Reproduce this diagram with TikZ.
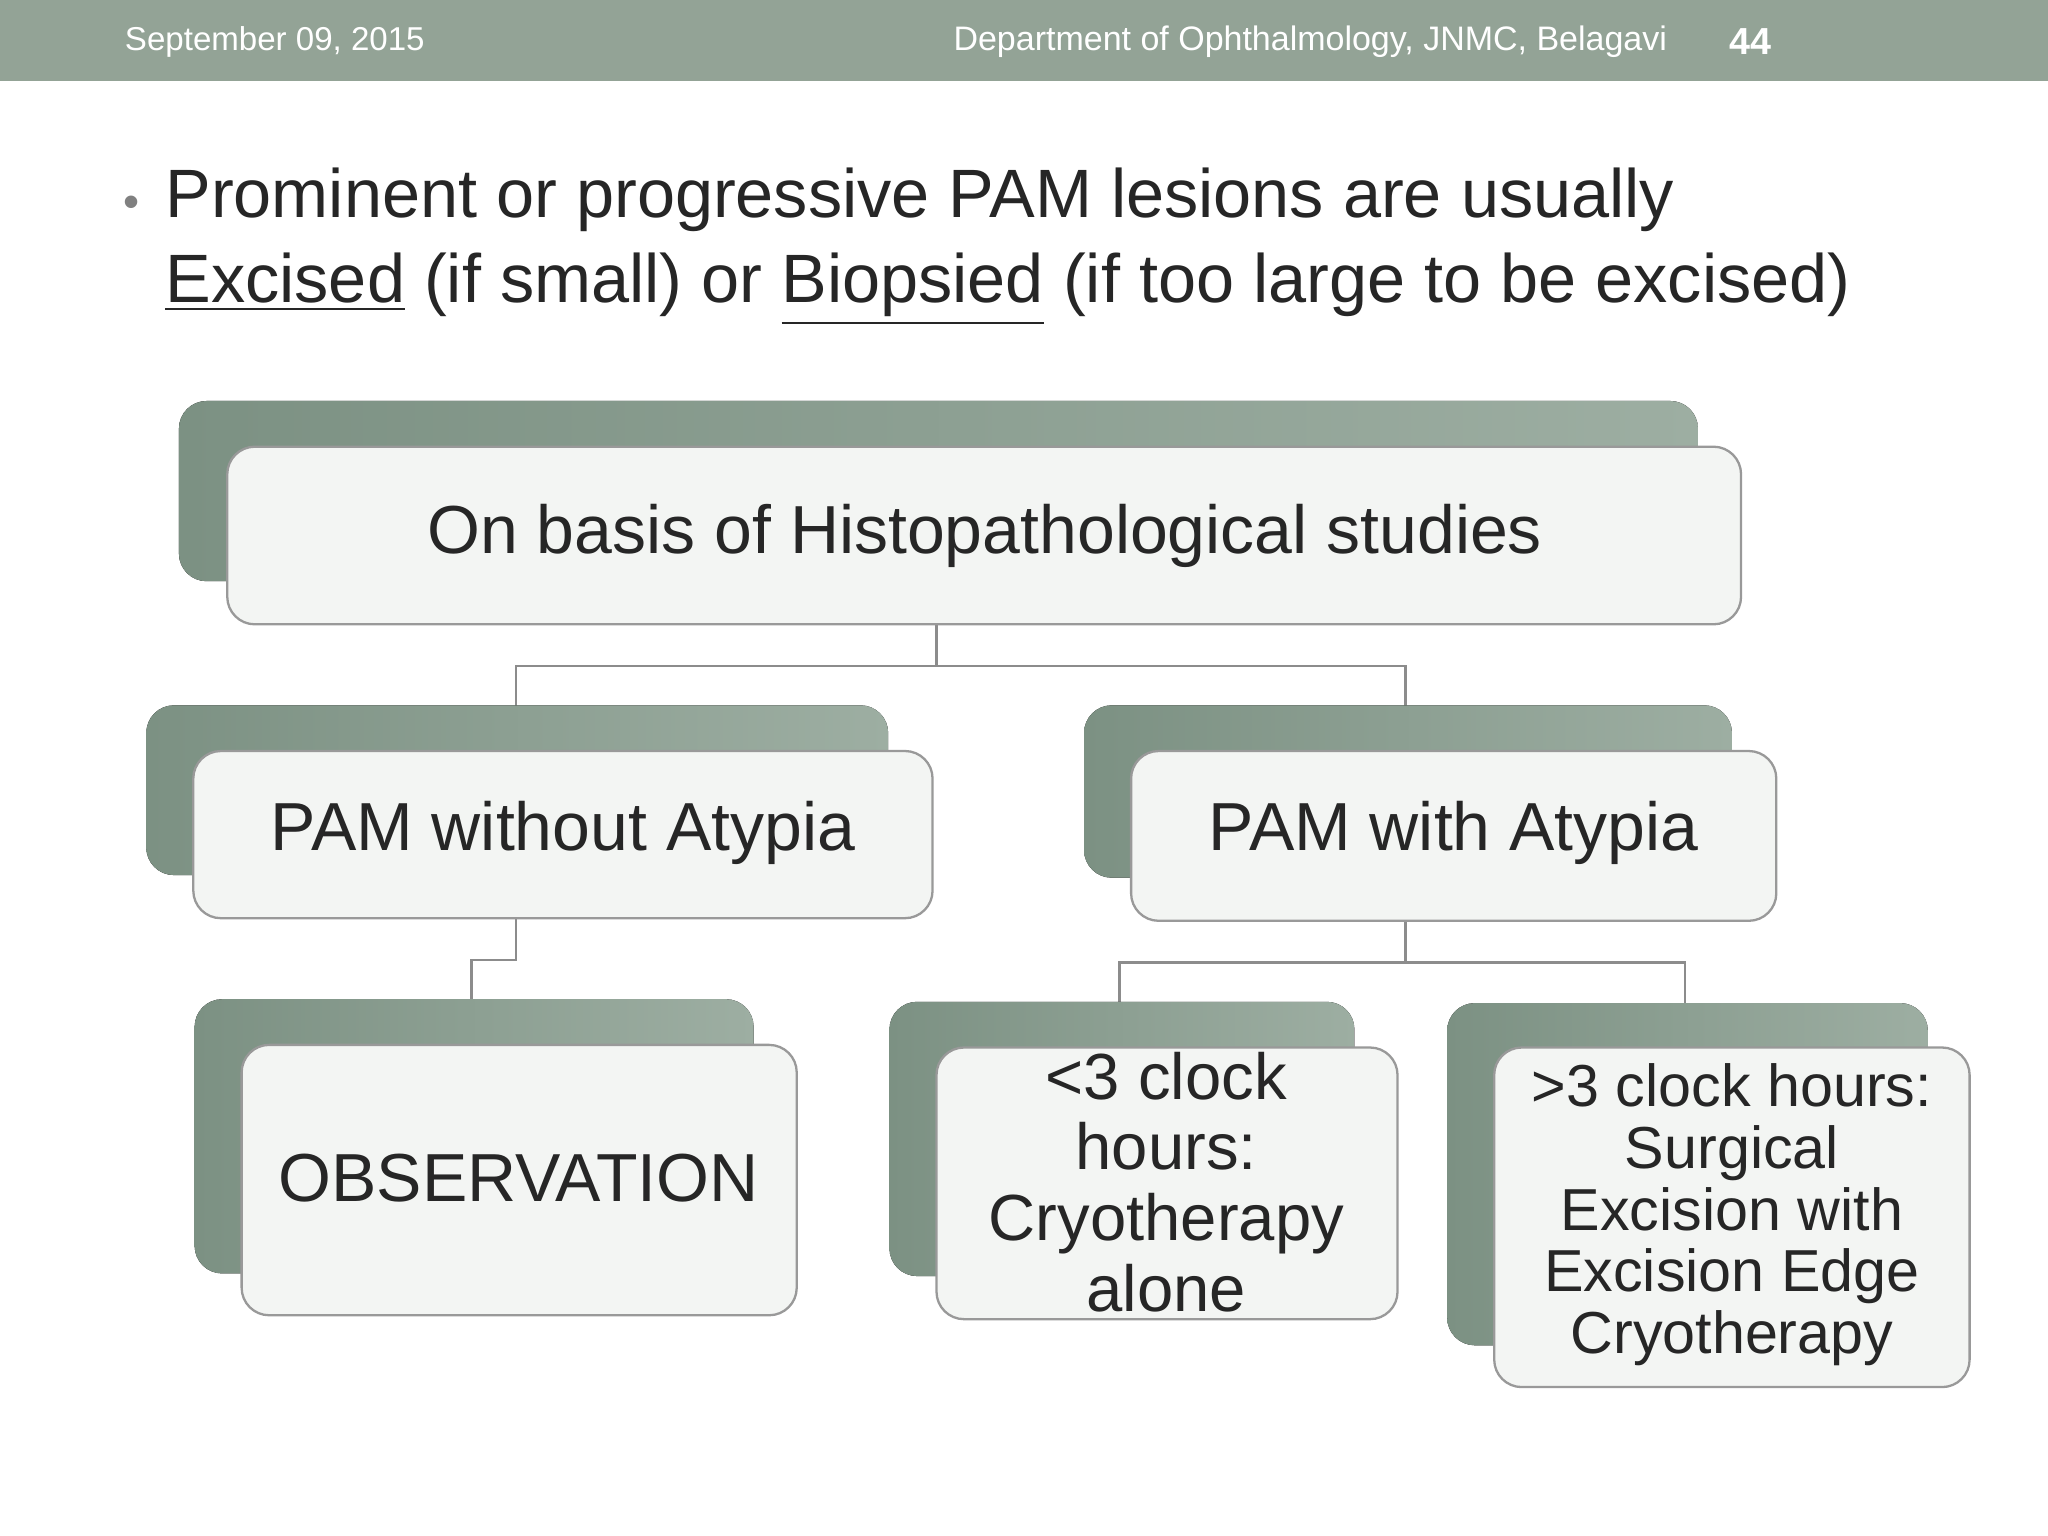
\documentclass[tikz,border=0pt]{standalone}
\usepackage{fontspec}
\setmainfont{Liberation Sans}
\definecolor{hdr}{HTML}{93A396}
\definecolor{bkA}{HTML}{7C9183}
\definecolor{bkB}{HTML}{9DAEA2}
\definecolor{frt}{HTML}{F3F5F3}
\definecolor{txt}{HTML}{262626}
\begin{document}
\begin{tikzpicture}[x=0.01cm,y=-0.01cm,
  back/.style={rounded corners=6pt,left color=bkA,right color=bkB,draw=none},
  front/.style={rounded corners=6pt,fill=frt,draw=gray!80,line width=0.5pt},
  lbl/.style={text=txt,font=\fontsize{14.8pt}{16.8pt}\selectfont,align=center},
  conn/.style={draw=gray!90,line width=0.6pt}]
\useasboundingbox (0,0) rectangle (1568,1176);
\fill[white] (0,0) rectangle (1568,1176);
\fill[hdr] (0,0) rectangle (1568,62);
\node[anchor=west,text=white,font=\fontsize{7.2pt}{8pt}\selectfont,inner sep=0pt] (d) at (95,32) {September 09, 2015};
\node[anchor=east,text=white,font=\fontsize{7.4pt}{8pt}\selectfont,inner sep=0pt] (dep) at (1277,32) {Department of Ophthalmology, JNMC, Belagavi};
\node[text=white,font=\bfseries\fontsize{8.2pt}{9pt}\selectfont] (pg) at (1340,32) {44};
\node[text=gray,font=\fontsize{10pt}{12pt}\selectfont] (b) at (101,158) {•};
\node[anchor=north west,text=txt,align=left,font=\fontsize{14.9pt}{18.4pt}\selectfont,inner sep=0pt] (bt) at (126,128)
 {Prominent or progressive PAM lesions are usually\\ \underline{Excised} (if small) or \underline{Biopsied} (if too large to be excised)};
% connectors (behind boxes)
\coordinate (t0) at (717,478);
\coordinate (l0) at (395,575);
\coordinate (r0) at (1076,575);
\draw[conn] (t0) -- (717,510) -| (l0);
\draw[conn] (717,510) -| (r0);
\coordinate (l1) at (395,703);
\coordinate (o0) at (361,800);
\draw[conn] (l1) -- (395,735) -| (o0);
\coordinate (r1) at (1076,705);
\coordinate (c10) at (857,802);
\coordinate (c20) at (1290,802);
\draw[conn] (r1) -- (1076,737) -| (c10);
\draw[conn] (1076,737) -| (c20);
% boxes
\fill[back] (137,307) rectangle (1300,445);
\draw[front] (174,342) rectangle (1333,478);
\node[lbl] (top) at (754,410) {On basis of Histopathological studies};
\fill[back] (112,540) rectangle (680,670);
\draw[front] (148,575) rectangle (714,703);
\node[lbl] (l) at (431,638) {PAM without Atypia};
\fill[back] (830,540) rectangle (1326,672);
\draw[front] (866,575) rectangle (1360,705);
\node[lbl] (r) at (1113,638) {PAM with Atypia};
\fill[back] (149,765) rectangle (577,975);
\draw[front] (185,800) rectangle (610,1007);
\node[lbl] (o) at (397,902) {OBSERVATION};
\fill[back] (681,767) rectangle (1037,977);
\draw[front] (717,802) rectangle (1070,1010);
\node[lbl,font=\fontsize{14.2pt}{15.4pt}\selectfont] (c1) at (893,905) {<3 clock\\hours:\\Cryotherapy\\alone};
\fill[back] (1108,768) rectangle (1476,1030);
\draw[front] (1144,802) rectangle (1508,1062);
\node[lbl,font=\fontsize{12.9pt}{13.4pt}\selectfont] (c2) at (1326,930) {>3 clock hours:\\Surgical\\Excision with\\Excision Edge\\Cryotherapy};
\end{tikzpicture}
\end{document}
